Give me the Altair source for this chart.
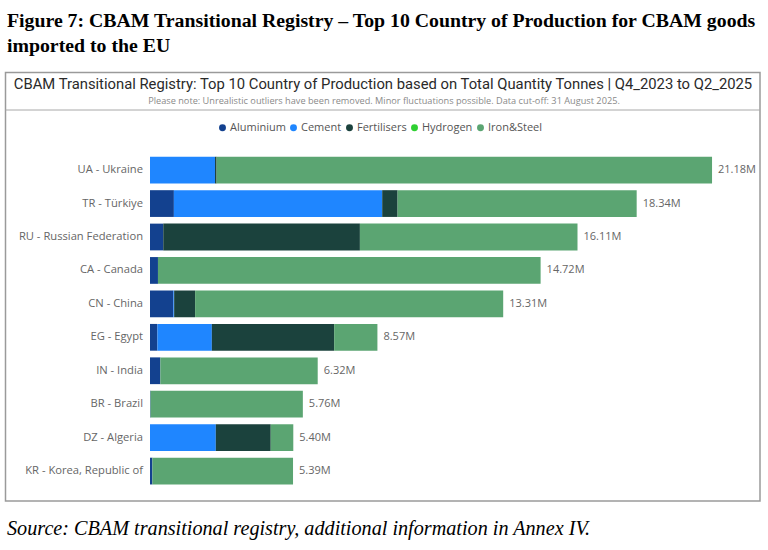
import altair as alt
import pandas as pd

# Country of production, top to bottom
countries = [
    "UA - Ukraine", "TR - Türkiye", "RU - Russian Federation", "CA - Canada",
    "CN - China", "EG - Egypt", "IN - India", "BR - Brazil", "DZ - Algeria",
    "KR - Korea, Republic of",
]

# Goods categories and their colours
categories = ["Aluminium", "Cement", "Fertilisers", "Hydrogen", "Iron&Steel"]
colors = ["#13418f", "#1f86ff", "#1b423d", "#2fd032", "#5ba572"]

# Quantity in million tonnes per category, one value per country
aluminium = [0.00, 0.90, 0.50, 0.30, 0.88, 0.28, 0.39, 0.02, 0.00, 0.09]
cement = [2.45, 7.85, 0.00, 0.00, 0.03, 2.05, 0.00, 0.00, 2.48, 0.00]
fertilisers = [0.06, 0.58, 7.41, 0.00, 0.79, 4.61, 0.00, 0.00, 2.07, 0.00]
hydrogen = [0.00, 0.00, 0.00, 0.00, 0.00, 0.00, 0.00, 0.00, 0.00, 0.00]
iron_steel = [18.67, 9.01, 8.20, 14.42, 11.61, 1.63, 5.93, 5.74, 0.85, 5.30]

series = [aluminium, cement, fertilisers, hydrogen, iron_steel]
rows = []
for ci, (cat, vals) in enumerate(zip(categories, series)):
    for country, v in zip(countries, vals):
        rows.append({"country": country, "category": cat, "value": v, "ord": ci})
df = pd.DataFrame(rows)

FONT = "Open Sans"
W, H = 768, 550

x_scale = alt.Scale(domain=[0, 22], range=[150, 733.8], nice=False, zero=True)
y_scale = alt.Scale(domain=countries, range=[153.4, 487.8], paddingInner=0.2, paddingOuter=0.1)

base = alt.Chart(df)

bars = base.mark_bar(cornerRadius=0).encode(
    y=alt.Y("country:N", sort=countries, scale=y_scale, axis=None),
    x=alt.X("value:Q", stack="zero", scale=x_scale, axis=None),
    color=alt.Color(
        "category:N",
        scale=alt.Scale(domain=categories, range=colors),
        legend=alt.Legend(
            title=None, orient="none", legendX=217, legendY=122,
            direction="horizontal", symbolType="circle", symbolSize=48,
            symbolStrokeWidth=0, labelFont=FONT, labelFontSize=11,
            labelColor="#555555", columnPadding=2, labelOffset=2,
        ),
    ),
    order=alt.Order("ord:Q"),
)

totals = base.transform_aggregate(
    total="sum(value)", groupby=["country"]
).transform_calculate(
    label="format(datum.total, '.2f') + 'M'"
).mark_text(
    align="left", baseline="middle", dx=6, font=FONT, fontSize=11, color="#666666"
).encode(
    y=alt.Y("country:N", sort=countries, scale=y_scale, axis=None),
    x=alt.X("total:Q", scale=x_scale, axis=None),
    text="label:N",
)

country_labels = alt.Chart(pd.DataFrame({"country": countries})).mark_text(
    align="right", baseline="middle", font=FONT, fontSize=11.2, color="#666666"
).encode(
    y=alt.Y("country:N", sort=countries, scale=y_scale, axis=None),
    x=alt.value(143),
    text="country:N",
)

one = pd.DataFrame({"k": [0]})

frame = alt.Chart(one).mark_rect(
    filled=False, stroke="#9a9a9a", strokeWidth=1.5
).encode(
    x=alt.value(5.5), x2=alt.value(760), y=alt.value(72.5), y2=alt.value(501)
)

divider = alt.Chart(one).mark_rule(color="#a8a8a8", strokeWidth=1).encode(
    x=alt.value(5.5), x2=alt.value(760), y=alt.value(110)
)


def text_layer(t, x, y, **kw):
    return alt.Chart(pd.DataFrame({"t": [t]})).mark_text(**kw).encode(
        x=alt.value(x), y=alt.value(y), text="t:N"
    )


fig_title1 = text_layer(
    "Figure 7: CBAM Transitional Registry \u2013 Top 10 Country of Production for CBAM goods",
    7, 27, align="left", baseline="alphabetic", font="Liberation Serif",
    fontSize=19.8, fontWeight="bold", color="#000000",
)
fig_title2 = text_layer(
    "imported to the EU", 7, 52, align="left", baseline="alphabetic",
    font="Liberation Serif", fontSize=19.8, fontWeight="bold", color="#000000",
)
box_title = text_layer(
    "CBAM Transitional Registry: Top 10 Country of Production based on Total Quantity Tonnes | Q4_2023 to Q2_2025",
    383, 89, align="center", baseline="alphabetic", font="Roboto",
    fontSize=14.8, color="#2a2a2a",
)
box_note = text_layer(
    "Please note: Unrealistic outliers have been removed. Minor fluctuations possible. Data cut-off: 31 August 2025.",
    384, 104, align="center", baseline="alphabetic", font=FONT,
    fontSize=9.2, color="#8a8a8a",
)
source = text_layer(
    "Source: CBAM transitional registry, additional information in Annex IV.",
    7, 535, align="left", baseline="alphabetic", font="Liberation Serif",
    fontSize=20.2, fontStyle="italic", color="#000000",
)

chart = alt.layer(
    frame, divider, bars, totals, country_labels,
    fig_title1, fig_title2, box_title, box_note, source,
).properties(
    width=W, height=H, padding=0, autosize=alt.AutoSizeParams(type="none"),
    background="#ffffff",
).configure_view(stroke=None)

chart.save("out.html", embed_options={"renderer": "svg", "actions": False})
